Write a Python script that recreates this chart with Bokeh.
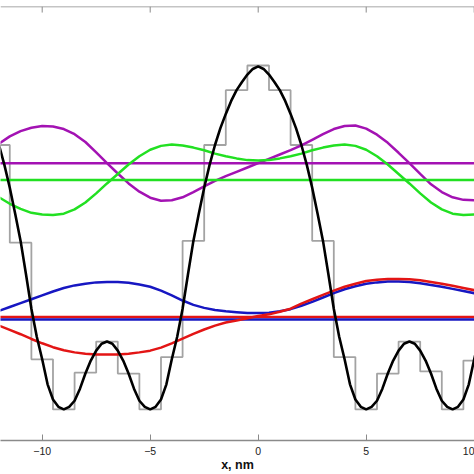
import numpy as np
from bokeh.plotting import figure
from bokeh.models import Range1d, FixedTicker, Span
from bokeh.embed import file_html
from bokeh.resources import INLINE

# ---------------- data ----------------
tick_values = [-10, -5, 0, 5, 10]

# potential (black), sampled every 0.25 nm from -12 to 10.25
pot_x = np.arange(-12.0, 10.26, 0.25)
pot_y = [6.84, 6.38, 5.85, 5.25, 4.62, 3.85, 3.05, 2.40, 1.88, 1.30, 0.95, 0.78,
         0.72, 0.78, 0.92, 1.20, 1.55, 1.85, 2.08, 2.24, 2.29, 2.24, 2.08, 1.85,
         1.55, 1.20, 0.92, 0.78, 0.72, 0.78, 0.95, 1.30, 1.88, 2.40, 3.05, 3.85,
         4.62, 5.25, 5.85, 6.38, 6.84, 7.23, 7.56, 7.86, 8.11, 8.30, 8.47, 8.60,
         8.66, 8.60, 8.47, 8.30, 8.11, 7.86, 7.56, 7.23, 6.84, 6.38, 5.85, 5.25,
         4.62, 3.85, 3.05, 2.40, 1.88, 1.30, 0.95, 0.78, 0.72, 0.78, 0.92, 1.20,
         1.55, 1.85, 2.08, 2.24, 2.29, 2.24, 2.08, 1.85, 1.55, 1.20, 0.92, 0.78,
         0.72, 0.78, 0.95, 1.30, 1.88, 2.40]

# step (discretised) potential, one level per 1 nm cell centred on integers
step_x = np.arange(-13, 12, 1)
step_y = [8.11, 6.84, 4.58, 1.88, 0.72, 1.57, 2.29, 1.55, 0.72, 1.93, 4.62, 6.84,
          8.11, 8.68, 8.11, 6.84, 4.62, 1.93, 0.72, 1.55, 2.29, 1.60, 0.72, 1.85,
          4.62]

# wavefunctions, sampled every 0.5 nm from -12 to 10.5, drawn around their levels
wf_x = np.arange(-12.0, 10.51, 0.5)

E_purple = 6.42
psi_purple = [0.45, 0.62, 0.74, 0.82, 0.86, 0.85, 0.79, 0.67, 0.49, 0.25, 0.0, -0.24,
              -0.47, -0.66, -0.80, -0.87, -0.86, -0.79, -0.67, -0.54, -0.41, -0.30,
              -0.20, -0.10, 0.0, 0.10, 0.20, 0.30, 0.41, 0.54, 0.67, 0.79, 0.86, 0.87,
              0.80, 0.66, 0.47, 0.24, 0.0, -0.25, -0.49, -0.67, -0.79, -0.85, -0.86,
              -0.82]

E_green = 6.03
psi_green = [-0.40, -0.55, -0.67, -0.76, -0.80, -0.81, -0.78, -0.68, -0.52, -0.31,
             -0.08, 0.14, 0.36, 0.55, 0.70, 0.79, 0.82, 0.80, 0.75, 0.69, 0.61, 0.55,
             0.50, 0.46, 0.45, 0.46, 0.50, 0.55, 0.61, 0.69, 0.75, 0.80, 0.82, 0.79,
             0.70, 0.55, 0.36, 0.14, -0.08, -0.31, -0.52, -0.68, -0.78, -0.81, -0.80,
             -0.76]

E_blue = 2.80
psi_blue = [0.20, 0.29, 0.38, 0.47, 0.56, 0.65, 0.73, 0.79, 0.83, 0.86, 0.87, 0.87,
            0.85, 0.81, 0.76, 0.67, 0.56, 0.44, 0.34, 0.27, 0.22, 0.19, 0.17, 0.15,
            0.15, 0.16, 0.19, 0.24, 0.32, 0.41, 0.51, 0.61, 0.70, 0.77, 0.83, 0.86,
            0.88, 0.88, 0.87, 0.84, 0.80, 0.76, 0.71, 0.66, 0.61, 0.55]

E_red = 2.86
psi_red = [-0.20, -0.30, -0.40, -0.51, -0.61, -0.70, -0.77, -0.82, -0.85, -0.87,
           -0.87, -0.87, -0.85, -0.82, -0.78, -0.71, -0.61, -0.50, -0.39, -0.29,
           -0.20, -0.13, -0.08, -0.03, 0.02, 0.06, 0.12, 0.19, 0.31, 0.41, 0.51,
           0.61, 0.70, 0.77, 0.83, 0.86, 0.88, 0.88, 0.87, 0.85, 0.81, 0.77, 0.72,
           0.67, 0.62, 0.56]

# ---------------- figure ----------------
FONT = "Liberation Sans"
AXIS_GRAY = "#8a8a8a"
Y_TOP = 10.046
TICK_LEN = 0.14

p = figure(width=474, height=474, output_backend="svg", toolbar_location=None,
           x_range=Range1d(-11.93, 10.014), y_range=Range1d(0, Y_TOP),
           y_axis_location=None, min_border_left=0, min_border_right=0,
           min_border_top=6, min_border_bottom=33)
p.grid.visible = False
p.outline_line_color = None
p.background_fill_color = "white"

ax = p.xaxis[0]
ax.ticker = FixedTicker(ticks=tick_values)
ax.axis_line_color = AXIS_GRAY
ax.axis_line_width = 1.3
ax.major_tick_line_color = AXIS_GRAY
ax.major_tick_in = 6
ax.major_tick_out = 0
ax.minor_tick_line_color = None
ax.major_label_text_font = FONT
ax.major_label_text_font_size = "10.5px"
ax.major_label_text_color = "#222222"
ax.major_label_standoff = 6
ax.axis_label = "x, nm"
ax.axis_label_text_font = FONT
ax.axis_label_text_font_size = "12.5px"
ax.axis_label_text_font_style = "bold"
ax.axis_label_text_color = "#111111"
ax.axis_label_standoff = 0

# top frame line with inward ticks
p.add_layout(Span(location=Y_TOP, dimension="width", line_color=AXIS_GRAY,
                  line_width=1.3))
p.segment(x0=tick_values, x1=tick_values,
          y0=[Y_TOP] * len(tick_values), y1=[Y_TOP - TICK_LEN] * len(tick_values),
          line_color=AXIS_GRAY, line_width=1)

# staircase potential
p.step(step_x, step_y, mode="center", line_color="#a3a3a3", line_width=1.8)

# levels and wavefunctions
PURPLE = "#a312b3"
GREEN = "#22e022"
BLUE = "#1717c2"
RED = "#e31515"

for E, psi, col in [(E_purple, psi_purple, PURPLE), (E_green, psi_green, GREEN)]:
    p.line([-12.5, 10.5], [E, E], line_color=col, line_width=2.5)
    p.line(wf_x, E + np.array(psi), line_color=col, line_width=2.5)

p.line([-12.5, 10.5], [E_red, E_red], line_color=RED, line_width=2.5)
p.line([-12.5, 10.5], [E_blue, E_blue], line_color=BLUE, line_width=2.5)
p.line(wf_x, E_blue + np.array(psi_blue), line_color=BLUE, line_width=2.5)
p.line(wf_x, E_red + np.array(psi_red), line_color=RED, line_width=2.5)

# continuous potential
p.line(pot_x, pot_y, line_color="black", line_width=2.6)

open("out.html", "w").write(file_html(p, INLINE))
